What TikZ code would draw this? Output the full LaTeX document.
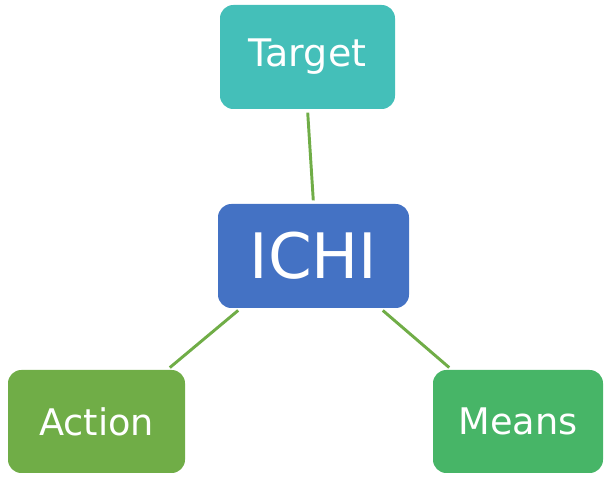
\documentclass[tikz,border=0pt]{standalone}
\usepackage{fontspec}
\setmainfont{DejaVu Sans}
\usepackage{tikz}
\usetikzlibrary{positioning}
\usepackage{xcolor}

\definecolor{ichiblue}{HTML}{4472C4}
\definecolor{targetteal}{HTML}{44BFB9}
\definecolor{actiongreen}{HTML}{70AD47}
\definecolor{meansgreen}{HTML}{47B567}

\begin{document}
\begin{tikzpicture}[
  x=0.75pt,
  y=-0.75pt,
  box/.style={
    rectangle,
    draw=none,
    rounded corners=10pt,
    align=center,
    text=white,
    inner sep=0pt,
    minimum height=78pt,
    font=\fontsize{27.5}{33}\selectfont
  },
  centre/.style={
    box,
    fill=ichiblue,
    minimum width=143.25pt,
    font=\fontsize{47}{56}\selectfont
  },
  target/.style={
    box,
    fill=targetteal,
    minimum width=131.25pt,
    font=\fontsize{28.5}{34}\selectfont
  },
  action/.style={
    box,
    fill=actiongreen,
    minimum width=132.75pt,
    minimum height=77.25pt
  },
  means/.style={
    box,
    fill=meansgreen,
    minimum width=127.5pt,
    minimum height=77.25pt
  },
  link/.style={draw=actiongreen,line width=2.2pt,shorten <=2.5pt,shorten >=2.5pt}
]

\useasboundingbox (0,0) rectangle (611,484);

\node[centre] (ichi) at (313.5,256) {ICHI};
\node[target] (target) at (307.5,57) {Target};
\node[action] (action) at (96.5,421.5) {Action};
\node[means] (means) at (518,421.5) {Means};

\draw[link] (target.south) -- (ichi.north);
\draw[link] ([xshift=17.25pt]ichi.south west) -- ([xshift=-13.5pt]action.north east);
\draw[link] ([xshift=-21.75pt]ichi.south east) -- ([xshift=14.25pt]means.north west);

\end{tikzpicture}
\end{document}
